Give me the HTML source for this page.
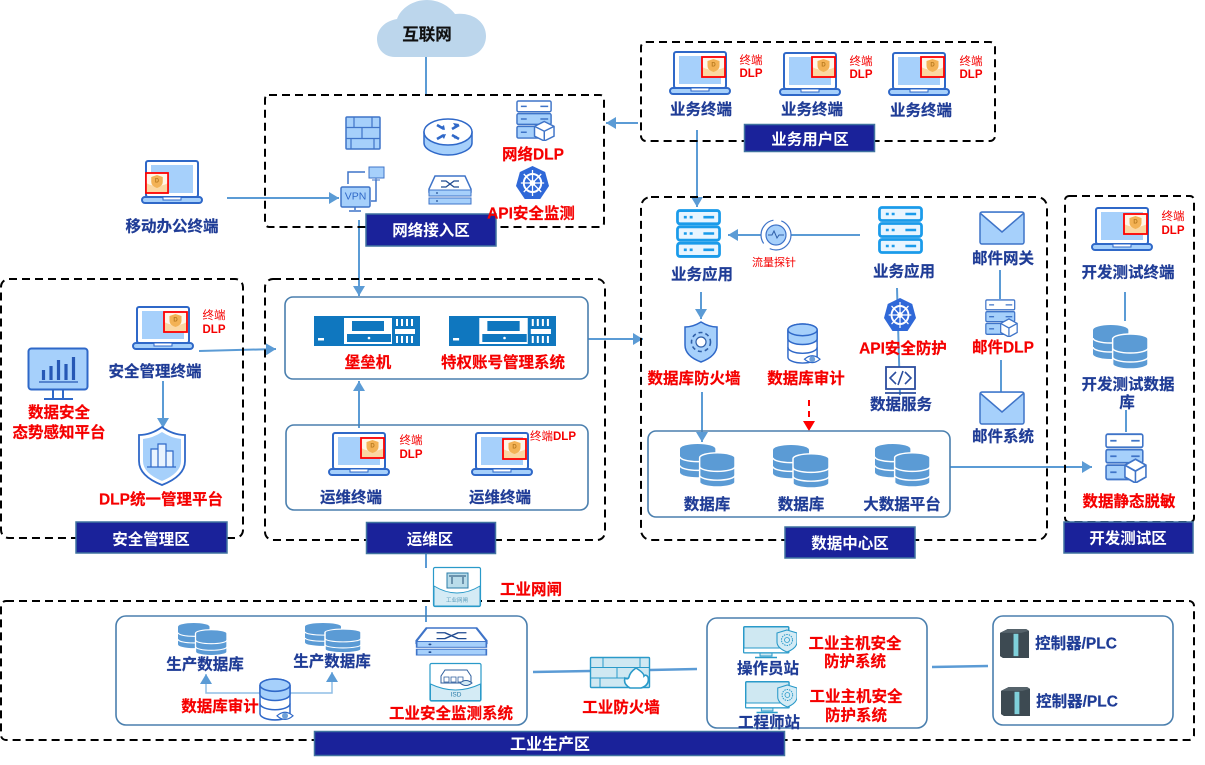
<!DOCTYPE html>
<html><head><meta charset="utf-8"><style>
html,body{margin:0;padding:0;background:#fff;width:1205px;height:765px;overflow:hidden}
svg{display:block}
text{font-family:"Liberation Sans","Noto Sans CJK SC",sans-serif;font-weight:700;text-anchor:middle;dominant-baseline:central}
.n{fill:#1f3c96;font-size:15.5px;stroke:#1f3c96;stroke-width:.2}
.r{fill:#f50000;font-size:15.5px;stroke:#f50000;stroke-width:.2}
.s{fill:#f50000;font-size:11.5px}
.t{fill:#f50000;font-size:11.5px;font-weight:400}
.w{fill:#fff;font-size:15.5px}
.z{fill:none;stroke:#000;stroke-width:2;stroke-dasharray:8 5}
.b{fill:none;stroke:#4a7fae;stroke-width:1.6}
.bar{fill:#1a229a;stroke:#3f729f;stroke-width:1.5}
.c{fill:none;stroke:#5b9bd5;stroke-width:2}
</style></head><body>
<svg width="1205" height="765" viewBox="0 0 1205 765" xmlns="http://www.w3.org/2000/svg">
<defs>
<marker id="a" markerUnits="userSpaceOnUse" markerWidth="11" markerHeight="12" refX="10" refY="6" orient="auto"><path d="M0 0L10 6L0 12z" fill="#5b9bd5"/></marker>
<marker id="ar" markerUnits="userSpaceOnUse" markerWidth="11" markerHeight="12" refX="10" refY="6" orient="auto"><path d="M0 0L10 6L0 12z" fill="#f00"/></marker>
<symbol id="laptop" viewBox="0 0 62 44" preserveAspectRatio="none"><rect x="5" y="1" width="52" height="36" rx="2" fill="#fff" stroke="#2f68c8" stroke-width="2"/><rect x="10" y="5" width="42" height="28" fill="#a6d0fb"/><rect x="1" y="37" width="60" height="6" rx="3" fill="#a6d0fb" stroke="#2f68c8" stroke-width="2"/><rect x="22" y="37" width="18" height="3" fill="#fff" stroke="#2f68c8"/></symbol>
<symbol id="badge" viewBox="0 0 25 22" preserveAspectRatio="none"><rect x="1" y="1" width="23" height="20" fill="#fbd7a2"/><path d="M1 1h23v10q-11 6-23 0z" fill="#fff6e8"/><path d="M12.5 3l6 2v5q0 4-6 6q-6-2-6-6v-5z" fill="#f3b255"/><text x="12.5" y="9.5" style="font-size:6px;fill:#b87a1f">D</text><rect x="1" y="1" width="23" height="20" fill="none" stroke="#f00" stroke-width="1.8"/></symbol>
<symbol id="fw" viewBox="0 0 36 34" preserveAspectRatio="none"><rect x="1" y="1" width="34" height="32" rx="1" fill="#a6d0fb" stroke="#3f74c8" stroke-width="1.5"/><path d="M1 11.500h34M1 22.500h34M9 1v10.500M27 1v10.500M17 11.500v11M6 22.500v10.500M29 22.500v10.500" stroke="#3f74c8" stroke-width="1.2" fill="none"/></symbol>
<symbol id="router" viewBox="0 0 50 38" preserveAspectRatio="none"><path d="M1 14v11c0 6 11 12 24 12s24-6 24-12V14z" fill="#a6d0fb" stroke="#2f68c8" stroke-width="1.5"/><ellipse cx="25" cy="14" rx="24" ry="13" fill="#fff" stroke="#2f68c8" stroke-width="1.5"/><path d="M14 7l7 4M36 7l-7 4M14 21l7-4M36 21l-7-4" stroke="#2f68c8" stroke-width="2.6"/><path d="M22 12l-1-5l-4 3zM30 5l6 1l-3 4zM23 16l-5 1l3 4zM29 17l5 1l-2 3z" fill="#2f68c8"/></symbol>
<symbol id="srvcube" viewBox="0 0 40 42" preserveAspectRatio="none"><rect x="1" y="1" width="35" height="11" rx="1.500" fill="#fff" stroke="#3f74c8" stroke-width="1.500"/><rect x="1" y="14" width="35" height="11" rx="1.500" fill="#a6d0fb" stroke="#3f74c8" stroke-width="1.500"/><rect x="1" y="27" width="35" height="12" rx="1.500" fill="#a6d0fb" stroke="#3f74c8" stroke-width="1.500"/><path d="M5 6.500h6M5 19.500h6M5 33h6M25 6.500h8M25 19.500h8" stroke="#3f74c8" stroke-width="1.500"/><path d="M29 22l10 5v10l-10 5l-10-5v-10z" fill="#fff" stroke="#3f74c8" stroke-width="1.500"/><path d="M19 27l10 5l10-5M29 32v10" fill="none" stroke="#3f74c8" stroke-width="1.500"/></symbol>
<symbol id="k8s" viewBox="0 0 34 34" preserveAspectRatio="none"><path d="M17 0l13 6l4 14l-9 13h-16l-9-13l4-14z" fill="#2f68d8"/><circle cx="17" cy="17" r="9" fill="none" stroke="#fff" stroke-width="2"/><path d="M17 4v26M5 17h24M8 8l18 18M26 8L8 26" stroke="#fff" stroke-width="1.300"/><circle cx="17" cy="17" r="3" fill="#fff"/></symbol>
<symbol id="sw" viewBox="0 0 44 30" preserveAspectRatio="none"><path d="M7 1h30l6 13v3H1v-3z" fill="#fff" stroke="#3f74c8" stroke-width="1.500"/><rect x="1" y="15" width="42" height="6" fill="#a6d0fb" stroke="#3f74c8"/><rect x="1" y="23" width="42" height="6" fill="#a6d0fb" stroke="#3f74c8"/><path d="M13 6h5l8 6h5M13 12h5l8-6h5" fill="none" stroke="#1f4a90" stroke-width="1.300"/><circle cx="9" cy="18" r=".9" fill="#1f4a90"/><circle cx="9" cy="26" r=".9" fill="#1f4a90"/></symbol>
<symbol id="bast" viewBox="0 0 106 30" preserveAspectRatio="none"><rect width="106" height="30" fill="#0f77bf"/><rect x="30" y="2" width="48" height="26" fill="#fff"/><rect x="38" y="5" width="32" height="10" fill="#0f77bf"/><rect x="33" y="18" width="44" height="8" fill="#0f77bf"/><circle cx="55" cy="22" r="1.300" fill="#fff"/><rect x="4" y="22" width="6" height="2.500" fill="#fff"/><path d="M83 3v7M88 3v7M93 3v7M98 3v7M83 20v7M88 20v7M93 20v7M98 20v7" stroke="#fff" stroke-width="2"/><rect x="81" y="13" width="20" height="5" fill="#fff"/></symbol>
<symbol id="stack" viewBox="0 0 46 48" preserveAspectRatio="none"><g fill="#e8f5ff" stroke="#1a9bea" stroke-width="2.800"><rect x="1.500" y="1.500" width="43" height="13" rx="2.500"/><rect x="1.500" y="17.500" width="43" height="13" rx="2.500"/><rect x="1.500" y="33.500" width="43" height="13" rx="2.500"/></g><path d="M8 8h3M14 8h3M8 24h3M14 24h3M8 40h3M14 40h3M28 8h11M28 24h11M28 40h11" stroke="#1a9bea" stroke-width="2.500"/></symbol>
<symbol id="mail" viewBox="0 0 46 34" preserveAspectRatio="none"><rect x="1" y="1" width="44" height="32" rx="2" fill="#a6d0fb" stroke="#3f74c8" stroke-width="1.500"/><path d="M1 2l22 19l22-19" fill="#fff" stroke="#3f74c8" stroke-width="1.500"/></symbol>
<symbol id="dbp" viewBox="0 0 56 46" preserveAspectRatio="none"><path d="M0 5a18 5 0 0 1 36 0v24a18 5 0 0 1-36 0z" fill="#5b9bd5"/><path d="M0 13a18 5 0 0 0 36 0M0 22a18 5 0 0 0 36 0" fill="none" stroke="#fff" stroke-width="1.500"/><path d="M20 14a18 5 0 0 1 36 0v25a18 5 0 0 1-36 0z" fill="#5b9bd5" stroke="#fff" stroke-width="1.500"/><path d="M20 23a18 5 0 0 0 36 0M20 32a18 5 0 0 0 36 0" fill="none" stroke="#fff" stroke-width="1.500"/></symbol>
<symbol id="dbeye" viewBox="0 0 36 44" preserveAspectRatio="none"><path d="M2 7a15 6 0 0 1 30 0v28a15 6 0 0 1-30 0z" fill="#fff" stroke="#2f68c8" stroke-width="1.500"/><path d="M2 8v8a15 6 0 0 0 30 0V8z" fill="#a6d0fb" stroke="#2f68c8" stroke-width="1.500"/><path d="M2 7a15 6 0 0 0 30 0a15 6 0 0 0-30 0z" fill="#a6d0fb" stroke="#2f68c8" stroke-width="1.500"/><path d="M2 25a15 6 0 0 0 30 0" fill="none" stroke="#2f68c8" stroke-width="1.500"/><path d="M19 37q8-7 16 0q-8 7-16 0z" fill="#fff" stroke="#2f68c8" stroke-width="1.200"/><circle cx="27" cy="37" r="3" fill="#6e9fd8"/></symbol>
<symbol id="pc" viewBox="0 0 54 33" preserveAspectRatio="none"><rect x=".75" y=".75" width="45" height="26" rx="1" fill="#cfe8f2" stroke="#2a9ac9" stroke-width="1.500"/><rect x=".75" y="22" width="45" height="4.700" fill="#fff" stroke="#2a9ac9"/><path d="M17 27h12v3H17z" fill="#cfe8f2" stroke="#2a9ac9"/><path d="M12 31.500h22" stroke="#2a9ac9" stroke-width="1.600"/><path d="M44 4l10 3v9q0 6-10 10q-10-4-10-10v-9z" fill="#d4ebf5" stroke="#2a9ac9" stroke-width="1.100"/><circle cx="44" cy="14" r="2.500" fill="none" stroke="#2a9ac9" stroke-width=".8"/><circle cx="44" cy="14" r="5.500" fill="none" stroke="#2a9ac9" stroke-dasharray="1.500 1"/></symbol>
<symbol id="plc" viewBox="0 0 30 34" preserveAspectRatio="none"><path d="M0 6l8-4h19l3 2v28H3l-3-2z" fill="#3d4a52"/><rect x="14" y="7" width="5" height="23" fill="#7fd0da"/><path d="M0 6l8-4h19l3 2l-8 2z" fill="#56636b"/></symbol>
</defs>

<!-- connectors -->
<g class="c">
<path d="M426 57V96"/>
<path d="M638 123H606" marker-end="url(#a)"/>
<path d="M697 130V207" marker-end="url(#a)"/>
<path d="M227 198H339" marker-end="url(#a)"/>
<path d="M359 220V296" marker-end="url(#a)"/>
<path d="M199 351L276 349" marker-end="url(#a)"/>
<path d="M163 381V428" marker-end="url(#a)"/>
<path d="M359 428V381" marker-end="url(#a)"/>
<path d="M588 339H643" marker-end="url(#a)"/>
<path d="M860 235H728" marker-end="url(#a)"/>
<path d="M701 292V319" marker-end="url(#a)"/>
<path d="M897 288L900 395"/>
<path d="M1000 270V299M1001 360V392"/>
<path d="M702 392V442" marker-end="url(#a)"/>
<path d="M950 467H1092" marker-end="url(#a)"/>
<path d="M1125 292V321M1126 410V432"/>
<path d="M426 554V568M426 606V622"/>
<path d="M533 672L590 671M650 670L697 669M932 667L988 666" stroke-width="2.500"/>
</g>
<path d="M275 693H206V674" fill="none" stroke="#8fbde6" stroke-width="1.500" marker-end="url(#a)"/>
<path d="M285 693H332V672" fill="none" stroke="#8fbde6" stroke-width="1.500" marker-end="url(#a)"/>
<path d="M809 400V431" fill="none" stroke="#f00" stroke-width="2" stroke-dasharray="6 5" marker-end="url(#ar)"/>

<!-- zones -->
<rect class="z" x="265" y="95" width="339" height="132" rx="4"/>
<rect class="z" x="641" y="42" width="354" height="99" rx="5"/>
<rect class="z" x="1" y="279" width="242" height="259" rx="8"/>
<rect class="z" x="265" y="279" width="340" height="261" rx="8"/>
<rect class="z" x="641" y="197" width="406" height="343" rx="10"/>
<rect class="z" x="1065" y="196" width="129" height="326" rx="4"/>
<rect class="z" x="1" y="601" width="1193" height="139" rx="5"/>

<!-- inner boxes -->
<rect class="b" x="285" y="297" width="303" height="82" rx="8" fill="#fff"/>
<rect class="b" x="286" y="425" width="302" height="85" rx="8"/>
<rect class="b" x="648" y="431" width="302" height="86" rx="8"/>
<rect class="b" x="116" y="616" width="411" height="109" rx="10"/>
<rect class="b" x="707" y="618" width="220" height="110" rx="10"/>
<rect class="b" x="993" y="616" width="180" height="109" rx="10"/>

<!-- cloud -->
<path d="M395 57c-12 0-18-9-18-18c0-10 8-18 20-20c4-11 16-19 30-19c12 0 22 6 28 14c18-2 31 8 31 22c0 12-9 21-22 21z" fill="#bcd6ec"/>
<text x="427" y="35" style="font-size:16.500px;fill:#111;stroke:#111;stroke-width:.2">互联网</text>

<!-- access zone icons -->
<use href="#fw" x="345" y="116" width="36" height="34"/>
<use href="#router" x="423" y="118" width="50" height="38"/>
<use href="#srvcube" x="516" y="100" width="39" height="41"/>
<use href="#k8s" x="516" y="166" width="33" height="34"/>
<use href="#sw" x="428" y="175" width="44" height="30"/>
<path d="M348 184v-12h17M376 180v21h-5" fill="none" stroke="#3f74c8" stroke-width="1.500"/>
<rect x="341" y="187" width="29" height="20" rx="1.500" fill="#a6d0fb" stroke="#3f74c8" stroke-width="1.500"/>
<text x="355.500" y="196.500" style="font-size:10.500px;fill:#2f68c8;font-weight:400">VPN</text>
<path d="M355 207v3M349 211h12" stroke="#3f74c8" stroke-width="1.500"/>
<rect x="369" y="167" width="15" height="11" fill="#a6d0fb" stroke="#3f74c8"/><path d="M376 178v2M372 180h8" stroke="#3f74c8"/>

<!-- laptops -->
<use href="#laptop" x="669" y="51" width="62" height="44"/><use href="#badge" x="701" y="56" width="25" height="22"/>
<use href="#laptop" x="779" y="52" width="62" height="44"/><use href="#badge" x="811" y="56" width="25" height="22"/>
<use href="#laptop" x="888" y="52" width="62" height="44"/><use href="#badge" x="920" y="56" width="25" height="22"/>
<use href="#laptop" x="141" y="160" width="62" height="44"/><use href="#badge" x="145" y="172" width="24" height="22"/>
<use href="#laptop" x="132" y="306" width="62" height="44"/><use href="#badge" x="163" y="311" width="25" height="22"/>
<use href="#laptop" x="328" y="432" width="62" height="44"/><use href="#badge" x="360" y="437" width="25" height="22"/>
<use href="#laptop" x="471" y="432" width="62" height="44"/><use href="#badge" x="502" y="438" width="25" height="22"/>
<use href="#laptop" x="1091" y="207" width="62" height="44"/><use href="#badge" x="1123" y="213" width="25" height="22"/>

<!-- security icons -->
<rect x="28.500" y="348.500" width="59" height="41" rx="3" fill="#a6d0fb" stroke="#2f68c8" stroke-width="2"/>
<path d="M53 390v8M63 390v8M44 399h29" stroke="#2f68c8" stroke-width="2"/>
<path d="M43.500 380V370M51 380V366M58.500 380V360M66 380V364M73.500 380V357" stroke="#2658b5" stroke-width="3.200"/><path d="M39 382h39" stroke="#2658b5" stroke-width="1.200"/>
<path d="M162 427q11 8 23 8v26q0 15-23 24q-23-9-23-24v-26q12 0 23-8z" fill="#fff" stroke="#2f68c8" stroke-width="1.800"/>
<path d="M162 432q9 6 19 7v22q0 12-19 20q-19-8-19-20v-22q10-1 19-7z" fill="#a6d0fb"/>
<path d="M151 467v-18h7v18M158 467v-23h8v23M166 467v-16h7v16" fill="#e8f3ff" stroke="#2f68c8" stroke-width="1.200"/><path d="M147 467h29" stroke="#2f68c8" stroke-width="1.200"/>

<!-- bastion -->
<use href="#bast" x="314" y="316" width="106" height="30"/>
<use href="#bast" x="449" y="316" width="107" height="30"/>

<!-- data center icons -->
<use href="#stack" x="676" y="209" width="45" height="49"/>
<use href="#stack" x="878" y="206" width="45" height="48"/>
<circle cx="776" cy="235" r="15" fill="#fff" stroke="#3f74c8" stroke-width="1.200" stroke-dasharray="30 8"/>
<circle cx="776" cy="235" r="10" fill="#a6d0fb" stroke="#3f74c8" stroke-width="1.200"/>
<path d="M768 235h4l2-4l3 7l2-3h5" fill="none" stroke="#2f5fa8"/>
<use href="#mail" x="979" y="211" width="46" height="34"/>
<use href="#mail" x="979" y="391" width="46" height="34"/>
<use href="#srvcube" x="985" y="299" width="33" height="38"/>
<use href="#k8s" x="884" y="298" width="32" height="34"/>
<path d="M701 322q8 5 16 5v18q0 11-16 17q-16-6-16-17v-18q8 0 16-5z" fill="#a6d0fb" stroke="#2f68c8" stroke-width="1.500"/>
<circle cx="701" cy="342" r="5" fill="#fff" stroke="#2f5fa8" stroke-width="1.200"/><circle cx="701" cy="342" r="9.500" fill="none" stroke="#2f5fa8" stroke-width="1.600" stroke-dasharray="4 3"/>
<use href="#dbeye" x="786" y="323" width="35" height="43"/>
<rect x="886" y="367" width="29" height="22" fill="#fff" stroke="#2b4d9e" stroke-width="1.800"/><path d="M885 393h31" stroke="#2b4d9e" stroke-width="1.800"/>
<path d="M896 372l-6 6l6 6M905 372l6 6l-6 6M903 371l-5 14" fill="none" stroke="#2b4d9e" stroke-width="1.600"/>
<use href="#dbp" x="680" y="444" width="55" height="45"/>
<use href="#dbp" x="773" y="445" width="56" height="45"/>
<use href="#dbp" x="875" y="444" width="55" height="45"/>

<!-- dev -->
<use href="#dbp" x="1093" y="325" width="55" height="46"/>
<use href="#srvcube" x="1105" y="433" width="42" height="50"/>

<!-- industry icons -->
<rect x="433.500" y="567.500" width="47" height="39" rx="1.500" fill="#fff" stroke="#2a9ac9" stroke-width="1.200"/>
<path d="M434 586q23 14 46 0v20h-46z" fill="#d4ebf5" stroke="#2a9ac9"/>
<rect x="447" y="573" width="21" height="15" fill="#b9dcea" stroke="#2a7ca8"/><path d="M452 577v7M463 577v7M449 576h17" stroke="#1f4a70" stroke-width="1"/>
<text x="457" y="601" style="font-size:5.500px;fill:#5a9ab8;font-weight:400">工业网闸</text>
<use href="#dbp" x="178" y="623" width="49" height="34"/>
<use href="#dbp" x="305" y="623" width="56" height="31"/>
<use href="#dbeye" x="258" y="678" width="36" height="45"/>
<use href="#sw" x="415" y="627" width="73" height="29"/>
<rect x="430" y="663.500" width="51" height="37.500" rx="1.500" fill="#fff" stroke="#2a9ac9" stroke-width="1.200"/>
<path d="M430.500 684q25 12 50 0v16.500h-50z" fill="#d4ebf5" stroke="#2a9ac9"/>
<path d="M441 683v-7l4-6h22l4 6v7z" fill="#fff" stroke="#2f5f9e"/><path d="M444 677h5v5h-5zM451 677h5v5h-5zM458 677h5v5h-5z" fill="none" stroke="#2f5f9e" stroke-width=".8"/>
<path d="M460 683q6-5 12 0q-6 5-12 0z" fill="#d4ebf5" stroke="#2f5f9e"/>
<text x="456" y="695" style="font-size:6.500px;fill:#2a7ca8;font-weight:400">ISD</text>
<rect x="590.500" y="657.500" width="59" height="30" rx="1" fill="#cfe8f2" stroke="#2a9ac9" stroke-width="1.400"/>
<path d="M591 667.500h58M591 678h58M603 658v9.500M640 658v9.500M617 667.500v10.500M600 678v9" stroke="#2a9ac9" fill="none"/>
<path d="M636 668q8 5 8 8q2-2 4 1q2 8-7 11h-11q-7-4-5-10q3 2 4-1q1-5 7-9z" fill="#fff" stroke="#2a9ac9" stroke-width="1.600"/>
<use href="#pc" x="743" y="626" width="54" height="33"/>
<use href="#pc" x="745" y="681" width="52" height="33"/>
<use href="#plc" x="1000" y="627" width="29" height="33"/>
<use href="#plc" x="1001" y="685" width="29" height="33"/>

<!-- label bars -->
<rect class="bar" x="366" y="214" width="130" height="32"/><text class="w" x="431" y="231">网络接入区</text>
<rect class="bar" x="744.500" y="124.500" width="130" height="27"/><text class="w" x="810" y="140">业务用户区</text>
<rect class="bar" x="76" y="522" width="151" height="31"/><text class="w" x="151" y="540">安全管理区</text>
<rect class="bar" x="366.500" y="522.500" width="129" height="31"/><text class="w" x="430" y="540">运维区</text>
<rect class="bar" x="785" y="527" width="130" height="31"/><text class="w" x="850" y="544">数据中心区</text>
<rect class="bar" x="1064" y="522" width="129" height="31"/><text class="w" x="1128" y="539">开发测试区</text>
<rect class="bar" x="314.500" y="731.500" width="470" height="24"/><text class="w" x="550" y="745" style="font-size:16px">工业生产区</text>

<!-- navy labels -->
<text class="n" x="172" y="227">移动办公终端</text>
<text class="n" x="701" y="110">业务终端</text>
<text class="n" x="812" y="110">业务终端</text>
<text class="n" x="921" y="111">业务终端</text>
<text class="n" x="702" y="275">业务应用</text>
<text class="n" x="904" y="272">业务应用</text>
<text class="n" x="901" y="405">数据服务</text>
<text class="n" x="1003" y="259">邮件网关</text>
<text class="n" x="1003" y="437">邮件系统</text>
<text class="n" x="707" y="505">数据库</text>
<text class="n" x="801" y="505">数据库</text>
<text class="n" x="902" y="505">大数据平台</text>
<text class="n" x="1128" y="273">开发测试终端</text>
<text class="n" x="1128" y="385">开发测试数据</text>
<text class="n" x="1127" y="403">库</text>
<text class="n" x="351" y="498">运维终端</text>
<text class="n" x="500" y="498">运维终端</text>
<text class="n" x="155" y="372">安全管理终端</text>
<text class="n" x="205" y="665">生产数据库</text>
<text class="n" x="332" y="662">生产数据库</text>
<text class="n" x="768" y="669">操作员站</text>
<text class="n" x="769" y="723">工程师站</text>
<text class="n" x="1076" y="644">控制器/PLC</text>
<text class="n" x="1077" y="702">控制器/PLC</text>

<!-- red labels -->
<text class="r" x="533" y="155">网络DLP</text>
<text class="r" x="531" y="214">API安全监测</text>
<text class="r" x="694" y="379">数据库防火墙</text>
<text class="r" x="806" y="379">数据库审计</text>
<text class="r" x="903" y="349">API安全防护</text>
<text class="r" x="1003" y="348">邮件DLP</text>
<text class="r" x="1129" y="502">数据静态脱敏</text>
<text class="r" x="368" y="363">堡垒机</text>
<text class="r" x="503" y="363">特权账号管理系统</text>
<text class="r" x="59" y="413">数据安全</text>
<text class="r" x="59" y="433">态势感知平台</text>
<text class="r" x="161" y="500">DLP统一管理平台</text>
<text class="r" x="531" y="590">工业网闸</text>
<text class="r" x="220" y="707">数据库审计</text>
<text class="r" x="451" y="714">工业安全监测系统</text>
<text class="r" x="621" y="708">工业防火墙</text>
<text class="r" x="855" y="644">工业主机安全</text>
<text class="r" x="855" y="662">防护系统</text>
<text class="r" x="856" y="697">工业主机安全</text>
<text class="r" x="856" y="716">防护系统</text>

<!-- small red -->
<text class="t" x="774" y="263" style="font-size:11px">流量探针</text>
<text class="t" x="751" y="61">终端</text><text class="s" x="751" y="74">DLP</text>
<text class="t" x="861" y="62">终端</text><text class="s" x="861" y="75">DLP</text>
<text class="t" x="971" y="62">终端</text><text class="s" x="971" y="75">DLP</text>
<text class="t" x="214" y="316">终端</text><text class="s" x="214" y="330">DLP</text>
<text class="t" x="411" y="441">终端</text><text class="s" x="411" y="455">DLP</text>
<text class="s" x="553" y="437"><tspan style="font-weight:400">终端</tspan>DLP</text>
<text class="t" x="1173" y="217">终端</text><text class="s" x="1173" y="231">DLP</text>
</svg>
</body></html>
